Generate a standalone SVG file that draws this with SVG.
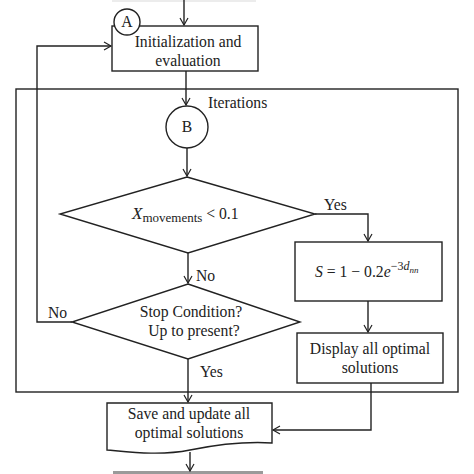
<svg xmlns="http://www.w3.org/2000/svg" width="474" height="474" viewBox="0 0 474 474">
<defs>
<marker id="arr" markerWidth="10" markerHeight="10" refX="8" refY="5" orient="auto" markerUnits="userSpaceOnUse">
<path d="M1,1 L8,5 L1,9" fill="none" stroke="#222" stroke-width="1.2"/>
</marker>
<style>
.s{fill:#fff;stroke:#222;stroke-width:1.4}
.c{fill:none;stroke:#222;stroke-width:1.4}
.t{font-family:"Liberation Serif","Times New Roman",serif;font-size:15.7px;fill:#222}
.m{text-anchor:middle}
</style>
</defs>
<rect x="0" y="0" width="474" height="474" fill="#fff"/>
<rect x="112" y="0" width="144" height="2" fill="#ececec"/>
<rect x="113" y="471" width="150" height="3" fill="#9a9a9a"/>
<g id="iterations">
<rect x="16" y="89" width="442" height="303" class="c"/>
<text x="208" y="108" class="t">Iterations</text>
</g>
<g id="connectors">
<line x1="184" y1="0" x2="184" y2="25" class="c" marker-end="url(#arr)"/>
<polyline points="72,322 37,322 37,46 111,46" class="c" marker-end="url(#arr)"/>
<line x1="186" y1="71" x2="186" y2="105" class="c" marker-end="url(#arr)"/>
<line x1="187" y1="148" x2="187" y2="176" class="c" marker-end="url(#arr)"/>
<polyline points="315,214 368,214 368,241" class="c" marker-end="url(#arr)"/>
<line x1="188" y1="253" x2="188" y2="283" class="c" marker-end="url(#arr)"/>
<line x1="368" y1="301" x2="368" y2="332" class="c" marker-end="url(#arr)"/>
<polyline points="371,383 371,430 273,430" class="c" marker-end="url(#arr)"/>
<line x1="188" y1="359" x2="188" y2="402" class="c" marker-end="url(#arr)"/>
<line x1="190" y1="452" x2="190" y2="471" class="c" marker-end="url(#arr)"/>
<text x="196" y="281" class="t">No</text>
<text x="324" y="210" class="t">Yes</text>
<text x="48" y="318" class="t">No</text>
<text x="200" y="377" class="t">Yes</text>
</g>
<g id="init">
<rect x="112" y="26" width="146" height="45" class="s"/>
<text x="188" y="47" class="t m">Initialization and</text>
<text x="188" y="66" class="t m">evaluation</text>
</g>
<g id="A">
<circle cx="127" cy="22" r="13" class="s"/>
<text x="127" y="27" class="t m" font-size="14">A</text>
</g>
<g id="B">
<circle cx="187" cy="127" r="21" class="s"/>
<text x="187" y="132" class="t m" font-size="14">B</text>
</g>
<g id="decision1">
<polygon points="187,177 315,214 188,253 60,214" class="s"/>
<text x="132" y="219" class="t"><tspan font-style="italic" font-size="17">X</tspan><tspan font-size="13" dy="3">movements</tspan><tspan dy="-3"> &lt; 0.1</tspan></text>
</g>
<g id="formula">
<rect x="295" y="242" width="147" height="59" class="s"/>
<text x="315" y="277" class="t"><tspan font-style="italic">S</tspan> = 1 − 0.2<tspan font-style="italic">e</tspan><tspan font-size="12" dy="-7">−3</tspan><tspan font-size="12" font-style="italic">d</tspan><tspan font-size="9" font-style="italic" dy="3">nn</tspan></text>
</g>
<g id="display">
<rect x="297" y="333" width="146" height="50" class="s"/>
<text x="370" y="354" class="t m">Display all optimal</text>
<text x="370" y="373" class="t m">solutions</text>
</g>
<g id="decision2">
<polygon points="188,284 300,322 188,359 72,322" class="s"/>
<text x="191" y="317" class="t m">Stop Condition?</text>
<text x="194" y="336" class="t m">Up to present?</text>
</g>
<g id="save">
<path d="M107,403 L272,403 L272,443 C240,441 210,446 190,450 C160,456 130,452 107,450 Z" class="s"/>
<text x="189" y="419" class="t m">Save and update all</text>
<text x="189" y="438" class="t m">optimal solutions</text>
</g>
</svg>
